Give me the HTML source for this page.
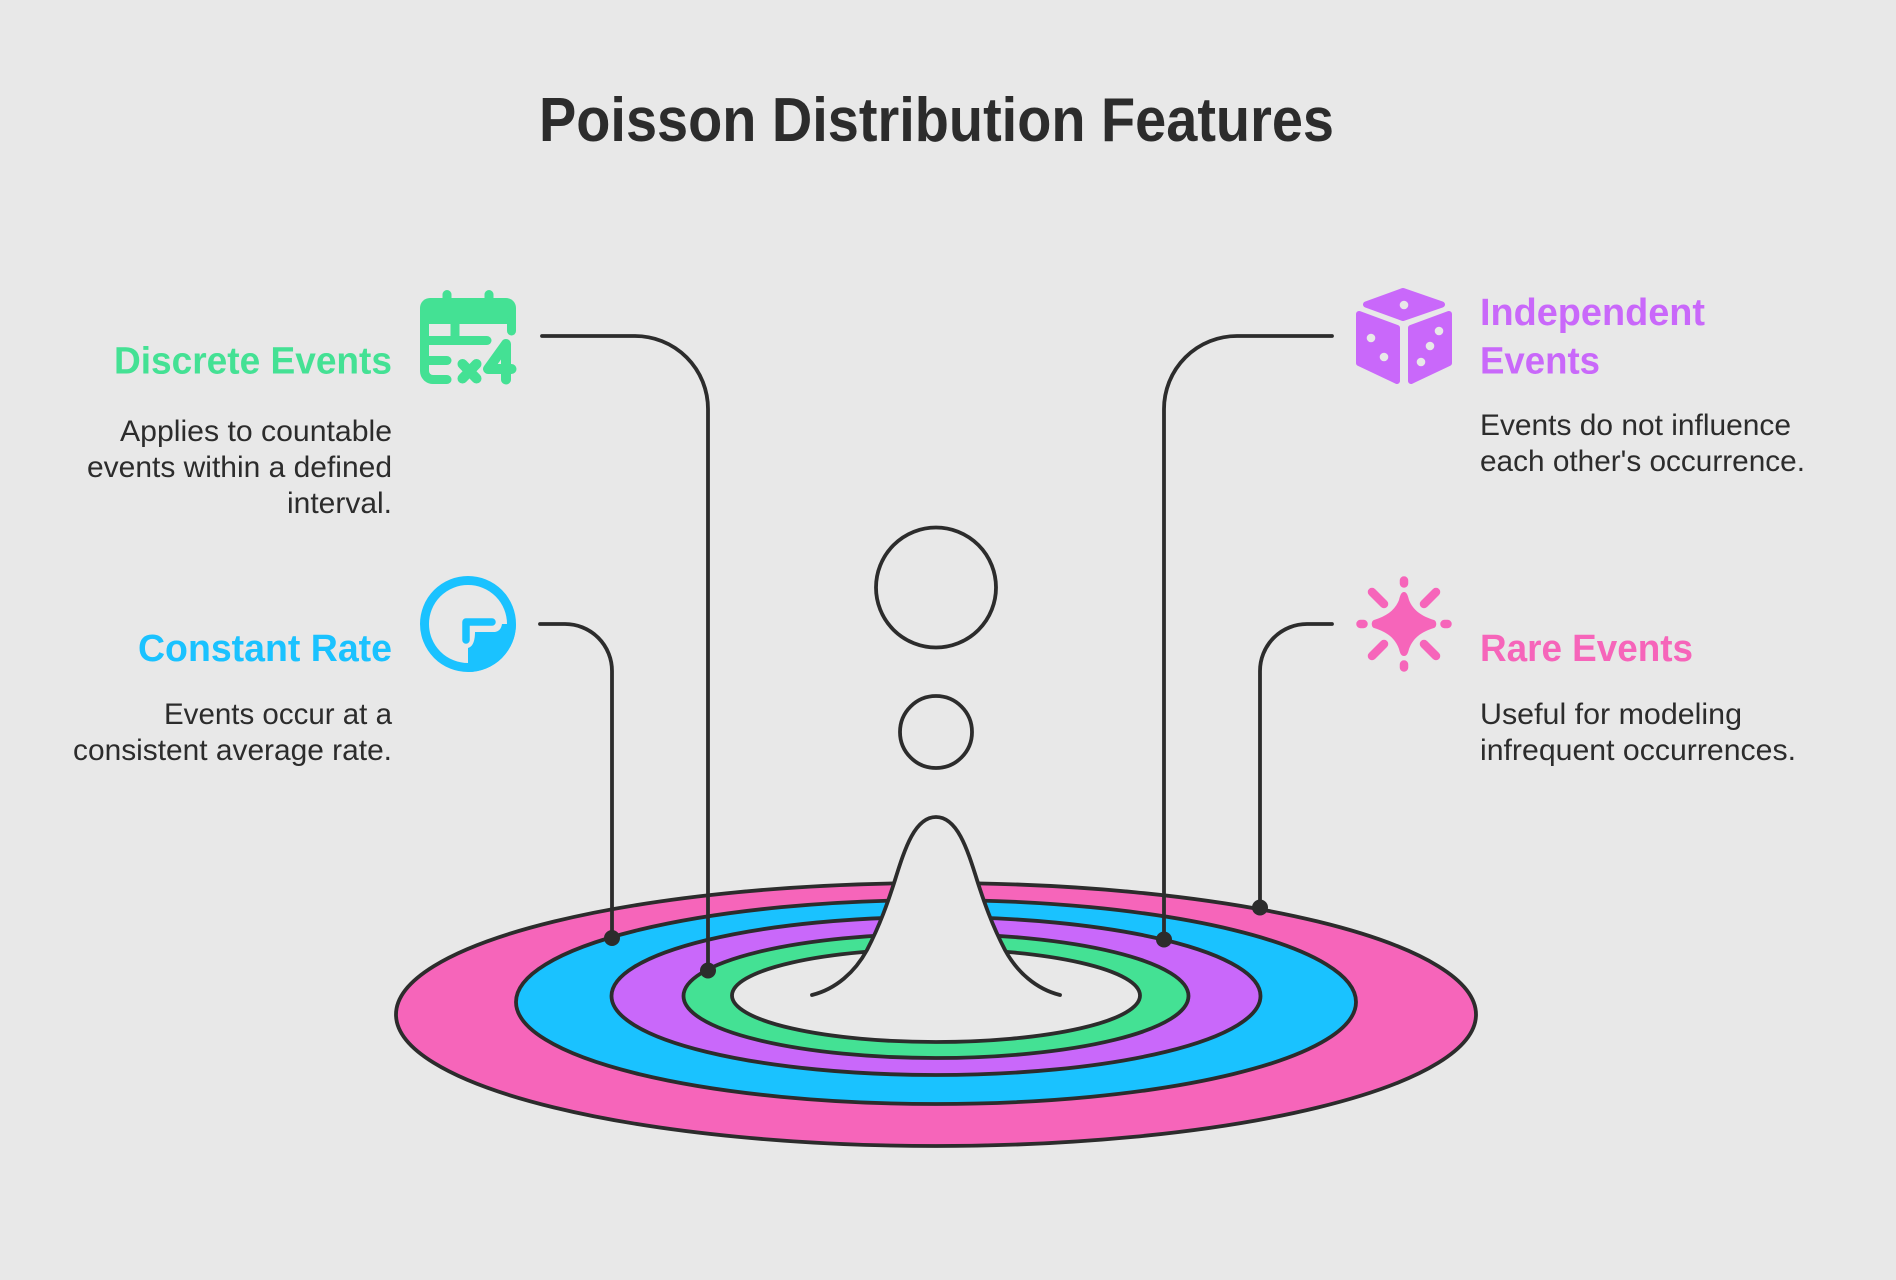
<!DOCTYPE html>
<html>
<head>
<meta charset="utf-8">
<style>
html,body{margin:0;padding:0;background:#E8E8E8;width:1896px;height:1280px;overflow:hidden}
svg{display:block}
text{font-family:"Liberation Sans",sans-serif}
.h{font-weight:700;font-size:38px}
.b{font-size:29.5px;fill:#2C2C2C}
</style>
</head>
<body>
<svg width="1896" height="1280" viewBox="0 0 1896 1280" xmlns="http://www.w3.org/2000/svg">
<rect width="1896" height="1280" fill="#E8E8E8"/>

<text x="539" y="141" font-size="62" font-weight="700" fill="#2C2C2C" textLength="795" lengthAdjust="spacingAndGlyphs">Poisson Distribution Features</text>

<!-- rings -->
<g stroke="#2C2C2C" stroke-width="3.8">
<ellipse cx="936" cy="1014.5" rx="540" ry="131.5" fill="#F665BA"/>
<ellipse cx="936" cy="1002" rx="420" ry="102" fill="#1AC2FF"/>
<ellipse cx="936" cy="996" rx="324.5" ry="79" fill="#C968FA"/>
<ellipse cx="936" cy="996" rx="252.5" ry="62" fill="#44E194"/>
<ellipse cx="936" cy="995.5" rx="204" ry="46.5" fill="#E8E8E8"/>
</g>
<path d="M812,995 C836,989 855,972 867,950 C880,925 888,902 895,880 C905,848 915,817 936,817 C957,817 967,848 977,880 C984,902 992,925 1005,950 C1017,972 1036,989 1060,995" fill="#E8E8E8" stroke="#2C2C2C" stroke-width="3.8" stroke-linecap="round"/>
<circle cx="936" cy="587.5" r="60" fill="none" stroke="#2C2C2C" stroke-width="3.8"/>
<circle cx="936" cy="732" r="36" fill="none" stroke="#2C2C2C" stroke-width="3.8"/>

<!-- connectors -->
<g fill="none" stroke="#2C2C2C" stroke-width="3.8" stroke-linecap="round">
<path d="M542,336 H635 A73,73 0 0 1 708,409 V970"/>
<path d="M540,624 H565 A47,47 0 0 1 612,671 V938"/>
<path d="M1332,336 H1237 A73,73 0 0 0 1164,409 V939"/>
<path d="M1332,624 H1307 A47,47 0 0 0 1260,671 V907"/>
</g>
<g fill="#2C2C2C">
<circle cx="612" cy="938" r="8"/>
<circle cx="708" cy="970.5" r="8"/>
<circle cx="1164" cy="939.5" r="8"/>
<circle cx="1260" cy="907.5" r="8"/>
</g>

<!-- left text -->
<g text-anchor="end">
<text class="h" x="392" y="373.5" fill="#44E194" textLength="278" lengthAdjust="spacingAndGlyphs">Discrete Events</text>
<text class="b" x="392" y="441" textLength="272" lengthAdjust="spacingAndGlyphs">Applies to countable</text>
<text class="b" x="392" y="477" textLength="305" lengthAdjust="spacingAndGlyphs">events within a defined</text>
<text class="b" x="392" y="513" textLength="105" lengthAdjust="spacingAndGlyphs">interval.</text>
<text class="h" x="392" y="661" fill="#1AC2FF" textLength="254" lengthAdjust="spacingAndGlyphs">Constant Rate</text>
<text class="b" x="392" y="724" textLength="228" lengthAdjust="spacingAndGlyphs">Events occur at a</text>
<text class="b" x="392" y="760" textLength="319" lengthAdjust="spacingAndGlyphs">consistent average rate.</text>
</g>

<!-- right text -->
<text class="h" x="1480" y="325" fill="#C968FA" textLength="225" lengthAdjust="spacingAndGlyphs">Independent</text>
<text class="h" x="1480" y="373.5" fill="#C968FA" textLength="120" lengthAdjust="spacingAndGlyphs">Events</text>
<text class="b" x="1480" y="435" textLength="311" lengthAdjust="spacingAndGlyphs">Events do not influence</text>
<text class="b" x="1480" y="471" textLength="325" lengthAdjust="spacingAndGlyphs">each other's occurrence.</text>
<text class="h" x="1480" y="661" fill="#F665BA" textLength="213" lengthAdjust="spacingAndGlyphs">Rare Events</text>
<text class="b" x="1480" y="724" textLength="262" lengthAdjust="spacingAndGlyphs">Useful for modeling</text>
<text class="b" x="1480" y="760" textLength="316" lengthAdjust="spacingAndGlyphs">infrequent occurrences.</text>

<!-- calendar icon -->
<g fill="none" stroke="#44E194" stroke-width="9" stroke-linecap="round" stroke-linejoin="round">
<path d="M447,294.5 V303 M489,294.5 V303"/>
<path d="M430,298 H506 A10,10 0 0 1 516,308 V324 H420 V308 A10,10 0 0 1 430,298 Z" fill="#44E194" stroke="none"/>
<path d="M511.5,320 V331"/>
<path d="M424.5,320 V371 A8.5,8.5 0 0 0 433,379.5 H447"/>
<path d="M424.5,360.5 H447"/>
<path d="M424.5,340.5 H487"/>
<path d="M455,323 V340"/>
<path d="M462.5,364 L476.5,378.5 M476.5,364 L462.5,378.5" stroke-width="10"/>
<path d="M506,379.5 V344 L488,369 H511.5" stroke-width="10"/>
</g>

<!-- clock icon -->
<circle cx="468" cy="624" r="43.5" fill="none" stroke="#1AC2FF" stroke-width="9"/>
<path d="M468,668 V648 Q475,646 475,632 H495 Q501,631 502,624 H516 A48,48 0 0 1 468,672 Z" fill="#1AC2FF"/>
<path d="M466,640 V622 H492" fill="none" stroke="#1AC2FF" stroke-width="7.5" stroke-linecap="round" stroke-linejoin="round"/>

<!-- dice icon -->
<g fill="#C968FA" stroke="#C968FA" stroke-width="6" stroke-linejoin="round">
<path d="M1403,291 L1442,304.5 L1403,318 L1366,304.5 Z"/>
<path d="M1359,314 L1397,328 V381 L1359,363 Z"/>
<path d="M1449,314 L1411,328 V381 L1449,363 Z"/>
</g>
<g fill="#E8E8E8">
<circle cx="1404" cy="305" r="4.3"/>
<circle cx="1371" cy="338" r="4.3"/>
<circle cx="1384" cy="357" r="4.3"/>
<circle cx="1439" cy="331" r="4.3"/>
<circle cx="1430" cy="346" r="4.3"/>
<circle cx="1421" cy="362" r="4.3"/>
</g>

<!-- sparkle icon -->
<path d="M1404,592 C1407,592 1408,596 1409,600 C1413,610 1421,616 1434,620 C1437,621 1437,627 1434,628 C1421,632 1413,638 1409,649 C1408,653 1407,656 1404,656 C1401,656 1400,653 1399,649 C1395,638 1387,632 1374,628 C1371,627 1371,621 1374,620 C1387,616 1395,610 1399,600 C1400,596 1401,592 1404,592 Z" fill="#F665BA"/>
<g fill="none" stroke="#F665BA" stroke-width="8.5" stroke-linecap="round">
<path d="M1404,580.5 V583.5 M1404,664.5 V667.5 M1360.5,624 H1363.5 M1444.5,624 H1447.5"/>
<path d="M1372,592 L1384,604 M1436,592 L1424,604 M1384,644 L1372,656 M1424,644 L1436,656"/>
</g>
</svg>
</body>
</html>
